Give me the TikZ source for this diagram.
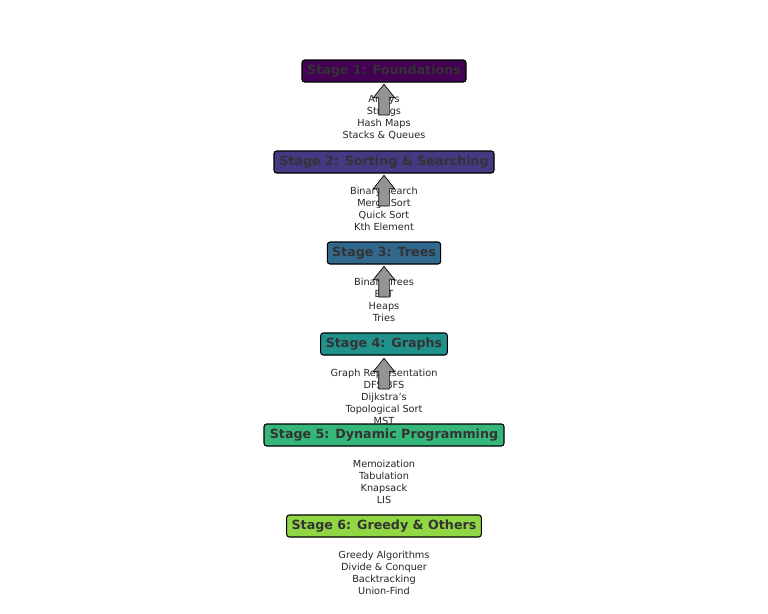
\documentclass[tikz,border=0pt]{standalone}
\usepackage{fontspec}
\setmainfont{DejaVu Sans}
\begin{document}
\begin{tikzpicture}[x=0.75pt,y=-0.75pt,
  stagebox/.style={draw=black,line width=0.8pt,rounded corners=2pt,minimum height=16.5pt,inner xsep=3pt,font=\bfseries\fontsize{9.5}{11}\selectfont,text=black!80},
  items/.style={align=center,font=\fontsize{7.3}{9}\selectfont,text=black!85},
  fatarrow/.style={fill=gray!80!black!70,draw=black,line width=0.5pt}]
\useasboundingbox (0,0) rectangle (768,614);
\definecolor{c1}{HTML}{440154}\definecolor{c2}{HTML}{443983}\definecolor{c3}{HTML}{31688E}
\definecolor{c4}{HTML}{21918C}\definecolor{c5}{HTML}{35B779}\definecolor{c6}{HTML}{90D743}
\node[stagebox,fill=c1,minimum width=123pt] (s1) at (384,71) {Stage 1: Foundations};
\node[stagebox,fill=c2,minimum width=165pt] (s2) at (384,162) {Stage 2: Sorting \& Searching};
\node[stagebox,fill=c3,minimum width=85pt] (s3) at (384,253) {Stage 3: Trees};
\node[stagebox,fill=c4,minimum width=95pt] (s4) at (384,344) {Stage 4: Graphs};
\node[stagebox,fill=c5,minimum width=180pt] (s5) at (384,435) {Stage 5: Dynamic Programming};
\node[stagebox,fill=c6,minimum width=146pt] (s6) at (384,526) {Stage 6: Greedy \& Others};
\node[items] (i1) at (384,118) {Arrays\\Strings\\Hash Maps\\Stacks \& Queues};
\node[items] (i2) at (384,209) {Binary Search\\Merge Sort\\Quick Sort\\Kth Element};
\node[items] (i3) at (384,300) {Binary Trees\\BST\\Heaps\\Tries};
\node[items] (i4) at (384,397) {Graph Representation\\DFS/BFS\\Dijkstra's\\Topological Sort\\MST};
\node[items] (i5) at (384,482) {Memoization\\Tabulation\\Knapsack\\LIS};
\node[items] (i6) at (384,573) {Greedy Algorithms\\Divide \& Conquer\\Backtracking\\Union-Find};
\foreach \t in {115,206,297,389}{
  \coordinate (a\t) at (384,\t);
  \draw[fatarrow] ([xshift=-4]a\t) -- ([xshift=4]a\t) -- ([xshift=4,yshift=13]a\t) -- ([xshift=8,yshift=13]a\t) -- ([yshift=23]a\t) -- ([xshift=-8,yshift=13]a\t) -- ([xshift=-4,yshift=13]a\t) -- cycle;
}
\end{tikzpicture}
\end{document}
